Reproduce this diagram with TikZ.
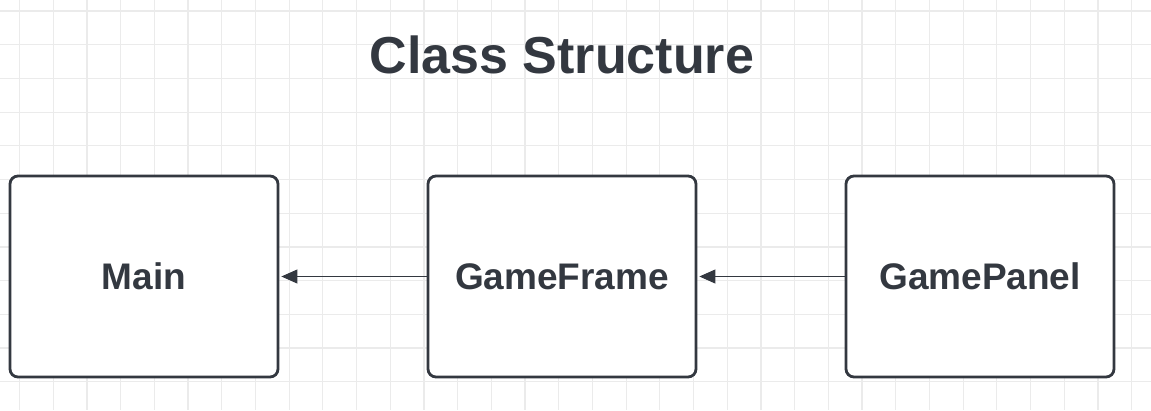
\documentclass[tikz,border=0pt]{standalone}
\usepackage{fontspec}
\setmainfont{Liberation Sans}
\usetikzlibrary{arrows.meta}
\definecolor{ink}{HTML}{333840}
\definecolor{gridc}{HTML}{EBEBEB}
\tikzset{
  box/.style={draw=ink, line width=2.8pt, rounded corners=8pt, minimum width=268pt, minimum height=201pt, fill=white, font=\fontsize{37}{42}\selectfont\bfseries, text=ink},
  conn/.style={draw=ink, line width=1pt, -{Triangle[length=16pt,width=14pt]}}
}
\begin{document}
\begin{tikzpicture}[x=1pt,y=-1pt]
\fill[white] (0,0) rectangle (1151,410);
\useasboundingbox (0,0) rectangle (1151,410);
\foreach \k in {0,...,34} {\draw[gridc, line width=1.2pt] ({19.5+33.7*\k},0) -- ({19.5+33.7*\k},410);}
\foreach \k in {0,...,12} {\draw[gridc, line width=1.2pt] (0,{11+33.7*\k}) -- (1151,{11+33.7*\k});}
\node[text=ink, font=\fontsize{52}{60}\selectfont\bfseries] (title) at (562,55) {Class Structure};
\node[box] (main) at (144,276.5) {Main};
\node[box] (frame) at (562,276.5) {GameFrame};
\node[box] (panel) at (980,276.5) {GamePanel};
\draw[conn] (frame.west) -- ([xshift=2pt]main.east);
\draw[conn] (panel.west) -- ([xshift=2pt]frame.east);
\end{tikzpicture}
\end{document}
